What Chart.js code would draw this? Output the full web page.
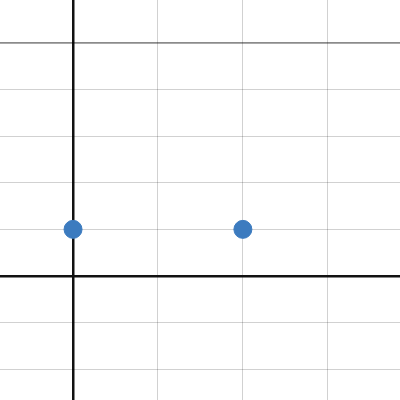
<!DOCTYPE html>
<html>
<head>
<meta charset="utf-8">
<script src="https://cdn.jsdelivr.net/npm/chart.js@4"></script>
<style>
  html, body { margin: 0; padding: 0; background: #fff; }
  #wrap { width: 400px; height: 400px; }
</style>
</head>
<body>
<div id="wrap"><canvas id="c"></canvas></div>
<script>
// data
const pointsX = [0, 2];
const pointsY = [1, 1];
const lineY = 5;
const xMin = -0.86, xMax = 3.85;
const yMin = -2.66, yMax = 5.92;

const gridColor = ctx => ctx.tick.value === 0 ? '#111' : 'rgba(0,0,0,0.18)';
const gridWidth = ctx => ctx.tick.value === 0 ? 2.5 : 1;

new Chart(document.getElementById('c'), {
  type: 'scatter',
  data: {
    datasets: [
      {
        data: [{ x: xMin, y: lineY }, { x: xMax, y: lineY }],
        showLine: true,
        borderColor: 'rgba(0,0,0,0.45)',
        borderWidth: 1.5,
        pointRadius: 0,
      },
      {
        data: pointsX.map((x, i) => ({ x, y: pointsY[i] })),
        backgroundColor: '#3c7bbf',
        borderColor: '#3c7bbf',
        pointRadius: 9,
      },
    ],
  },
  options: {
    responsive: true,
    maintainAspectRatio: false,
    animation: false,
    layout: { padding: 0, autoPadding: false },
    plugins: { legend: { display: false }, tooltip: { enabled: false } },
    scales: {
      x: {
        type: 'linear', min: xMin, max: xMax,
        afterBuildTicks: s => { s.ticks = [0, 1, 2, 3].map(v => ({ value: v })); },
        ticks: { display: false },
        border: { display: false },
        grid: { color: gridColor, lineWidth: gridWidth, drawTicks: false },
      },
      y: {
        type: 'linear', min: yMin, max: yMax,
        afterBuildTicks: s => { s.ticks = [-2, -1, 0, 1, 2, 3, 4, 5].map(v => ({ value: v })); },
        ticks: { display: false },
        border: { display: false },
        grid: { color: gridColor, lineWidth: gridWidth, drawTicks: false },
      },
    },
  },
});
</script>
</body>
</html>
